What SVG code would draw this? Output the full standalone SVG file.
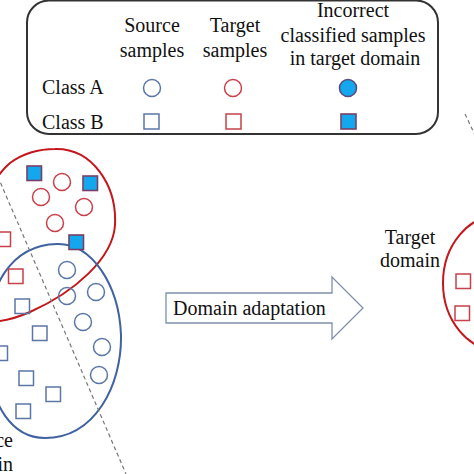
<svg xmlns="http://www.w3.org/2000/svg" width="474" height="474" viewBox="0 0 474 474">
<style>
text{font-family:"Liberation Serif","Times New Roman",serif;font-size:20px;fill:#111}
.c{text-anchor:middle}
.e{text-anchor:end}
.src{fill:none;stroke:#5b77a6;stroke-width:1.5}
.tgt{fill:none;stroke:#c8404a;stroke-width:1.5}
.bad{fill:#13a8ee;stroke:#5a4a80;stroke-width:1.6}
.badsq{fill:#13a8ee;stroke:#7a3f68;stroke-width:1.6}
.redc{fill:none;stroke:#c4161c;stroke-width:2}
.bluec{fill:none;stroke:#3f62a0;stroke-width:2}
.dash{fill:none;stroke:#777;stroke-width:1.2;stroke-dasharray:4 3}
</style>
<rect width="474" height="474" fill="#fff"/>

<g id="legend">
<rect x="27" y="0.5" width="411" height="133.5" rx="22" fill="#fff" stroke="#333" stroke-width="2"/>
<text class="c" x="152" y="32">Source</text>
<text class="c" x="152" y="57">samples</text>
<text class="c" x="235" y="32">Target</text>
<text class="c" x="235" y="57">samples</text>
<text class="c" x="353" y="17">Incorrect</text>
<text class="c" x="353" y="42">classified samples</text>
<text class="c" x="355" y="65">in target domain</text>
<text x="42" y="94">Class A</text>
<text x="42" y="129">Class B</text>
<circle class="src" cx="152" cy="88" r="8.5"/>
<circle class="tgt" cx="233" cy="88" r="8.5"/>
<circle class="bad" cx="348" cy="88" r="8.5"/>
<rect class="src" x="144" y="114" width="15" height="15"/>
<rect class="tgt" x="226" y="114" width="15" height="15"/>
<rect class="badsq" x="341" y="114" width="15" height="15"/>
</g>

<g id="source-cluster">
<path class="redc" d="M55,149 C92,148 117,185 115,225 C113,258 75,292 30,312 C0,325 -35,330 -40,290 C-45,240 -10,180 10,163 C25,152 40,149 55,149 Z"/>
<path class="bluec" d="M57,244 C92,243 119,285 121,335 C122,385 95,438 45,438 C15,438 -12,410 -13,345 C-14,285 12,245 57,244 Z"/>
<rect class="badsq" x="27" y="166" width="14.5" height="14.5"/>
<rect class="badsq" x="83" y="176" width="14.5" height="14.5"/>
<rect class="badsq" x="69" y="235" width="14.5" height="14.5"/>
<circle class="tgt" cx="62" cy="182" r="8.5"/>
<circle class="tgt" cx="41" cy="197" r="8.5"/>
<circle class="tgt" cx="84" cy="207" r="8.5"/>
<circle class="tgt" cx="55" cy="223" r="8.5"/>
<rect class="tgt" x="-4" y="232" width="14.5" height="14.5"/>
<rect class="tgt" x="8.5" y="269" width="14.5" height="14.5"/>
<circle class="src" cx="67" cy="270" r="8.5"/>
<circle class="src" cx="67" cy="296" r="8.5"/>
<circle class="src" cx="96" cy="292" r="8.5"/>
<circle class="src" cx="83" cy="322" r="8.5"/>
<circle class="src" cx="102" cy="347" r="8.5"/>
<circle class="src" cx="99" cy="375" r="8.5"/>
<rect class="src" x="15" y="299" width="14.5" height="14.5"/>
<rect class="src" x="32.5" y="326" width="14.5" height="14.5"/>
<rect class="src" x="-7" y="346" width="14.5" height="14.5"/>
<rect class="src" x="19" y="371" width="14.5" height="14.5"/>
<rect class="src" x="46" y="387" width="14.5" height="14.5"/>
<rect class="src" x="16" y="404" width="14.5" height="14.5"/>
<text class="e" x="13" y="447">Source</text>
<text class="e" x="13" y="471">domain</text>
</g>

<g id="target-cluster">
<ellipse class="redc" cx="500" cy="283" rx="57" ry="68"/>
<rect class="tgt" x="456" y="274" width="14.5" height="14.5"/>
<rect class="tgt" x="455" y="306" width="14.5" height="14.5"/>
<text class="c" x="410" y="244">Target</text>
<text class="c" x="410" y="267">domain</text>
</g>

<g id="connectors">
<line class="dash" x1="-5" y1="170" x2="126" y2="474"/>
<line class="dash" x1="465" y1="114" x2="475" y2="135" stroke="#aaa"/>
<g id="domain-adaptation">
<polygon points="166,293 332,293 332,277 363,308 332,339 332,323 166,323" fill="#fff" stroke="#7d8fac" stroke-width="1.3"/>
<text x="173" y="315">Domain adaptation</text>
</g>
</g>
</svg>
